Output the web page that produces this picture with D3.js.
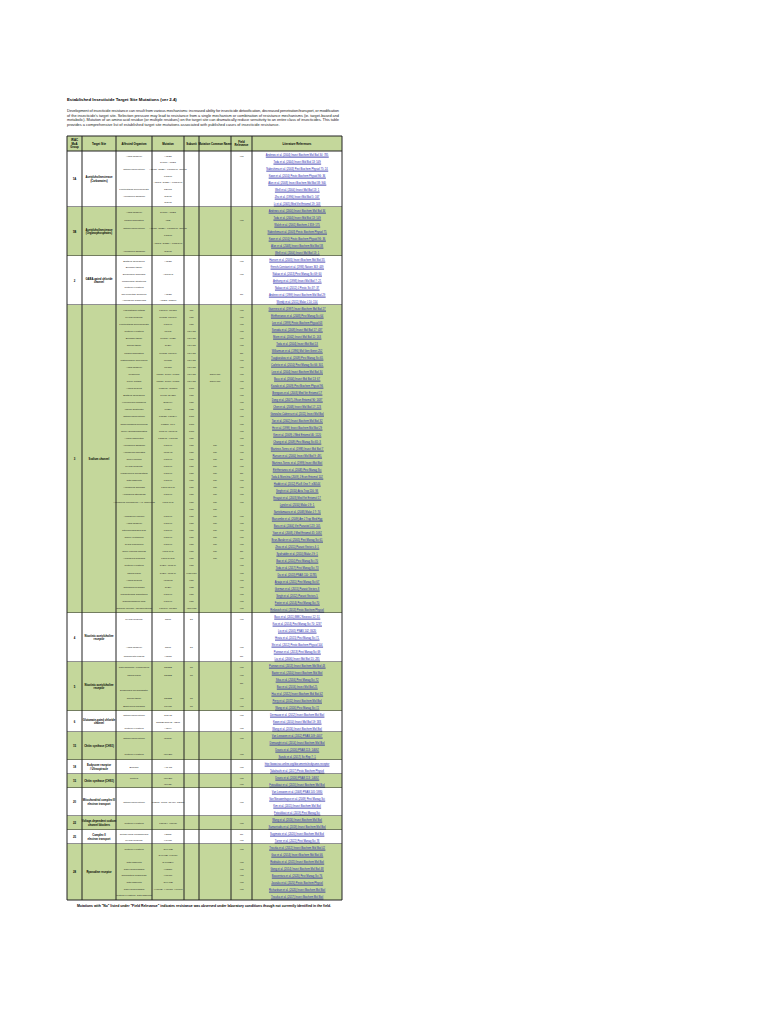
<!DOCTYPE html>
<html><head><meta charset="utf-8">
<script src="https://cdn.jsdelivr.net/npm/d3@7"></script>
<style>body{margin:0;background:#fff}svg{display:block}</style>
</head><body><svg id="c" width="768" height="1024"></svg>
<script>
const headers = ["IRAC MoA Group","Target Site","Affected Organism","Mutation","Subunit","Mutation Common Name","Field Relevance","Literature References"];
const moaGroups = ["1A","1B","2","3","4","5","6","15","18","15","20","22","25","28"];
const targets = ["Acetylcholinesterase (Carbamates)","Acetylcholinesterase (Organophosphates)","GABA-gated chloride channel","Sodium channel","Nicotinic acetylcholine receptor","Nicotinic acetylcholine receptor","Glutamate-gated chloride channel","Chitin synthase (CHS1)","Ecdysone receptor / Ultraspiracle","Chitin synthase (CHS1)","Mitochondrial complex III electron transport","Voltage-dependent sodium channel blockers","Complex II electron transport","Ryanodine receptor"];
// rows: [group index, organism, mutation, subunit, common name, field relevance]
const rows = [
[0,"Aphis gossypii","A302S","","","Yes"],[0,"","S431F, A302S","","",""],[0,"Tetranychus urticae","A201S, G328A, F331C/W, G119S","","",""],[0,"","F331W","","",""],[0,"","A201S, G328A, F331C/W","","",""],[0,"Leptinotarsa decemlineata","S291G","","",""],[0,"Anopheles gambiae","G119S","","",""],[0,"","G119S","","",""],
[1,"Aphis gossypii","S431F, A302S","","",""],[1,"Musca domestica","V82I","","","Yes"],[1,"Tetranychus urticae","A201S, G328A, F331C/W, G119S","","",""],[1,"","F331W","","",""],[1,"","A201S, G328A, F331C/W","","",""],[1,"Anopheles gambiae","G119S","","",""],
[2,"Blattella germanica","A302S","","","Yes"],[2,"Bemisia tabaci","","","",""],[2,"Drosophila simulans","A301G/S","","","Yes"],[2,"Laodelphax striatellus","","","",""],[2,"Plutella xylostella","","","",""],[2,"Rhyzopertha dominica","A302S","","","No"],[2,"Anopheles arabiensis","A302S, T350M","","",""],
[3,"Haematobia irritans","L1014F, M918T","kdr","","Yes"],[3,"Myzus persicae","M918T, L1014F","IIS6","","Yes"],[3,"Leptinotarsa decemlineata","L1014F","IIS6","","Yes"],[3,"Plutella xylostella","M918I","IIS4-S5","","Yes"],[3,"Bemisia tabaci","M918V, L925I","IIS4-S5","","Yes"],[3,"Thrips tabaci","T929I","IIS4-S5","","Yes"],[3,"Musca domestica","M918T, L1014F","IIS4-S5","","No"],[3,"Phthorimaea operculella","M918T","IIS4-S5","","Yes"],[3,"Aphis gossypii","M918L","IIS4-S5","","Yes"],[3,"Pediculus","M815I, T917I, L920F","IIS4-S5","super-kdr","Yes"],[3,"Pulex irritans","M815I, T917I, L920F","IIS4-S5","super-kdr","Yes"],[3,"Aedes aegypti","F1534C, I1011M","IIIS6","","Yes"],[3,"Blattella germanica","L993F, E435K","IIS6","","Yes"],[3,"Helicoverpa armigera","D1549V","IIS6","","Yes"],[3,"Varroa destructor","L925V","IIS5","","Yes"],[3,"Tetranychus urticae","F1538I, L1024V","IIIS6","","Yes"],[3,"Rhipicephalus microplus","F1550I, L64I","IIIS6","","Yes"],[3,"Culex quinquefasciatus","L1014F, L1014S","IIIS6","","Yes"],[3,"Aedes albopictus","F1534C, V1016G","IIS6","","Yes"],[3,"Anopheles gambiae","L1014F","IIS6","kdr","Yes"],[3,"Anopheles funestus","L1014S","IIS6","kdr","Yes"],[3,"Culex pipiens","L1014F","IIS6","kdr","No"],[3,"Myzus persicae","L1014F","IIS6","kdr","Yes"],[3,"Frankliniella occidentalis","L1014F","IIS6","kdr","No"],[3,"Tuta absoluta","L1014F","IIS6","kdr","Yes"],[3,"Anopheles sinensis","L1014C/F/S","IIS6","kdr","Yes"],[3,"Anopheles stephensi","L1014F","IIS6","kdr","Yes"],[3,"Anopheles culicifacies / An. subpictus","L1014F/S","IIS6","kdr","Yes"],[3,"","","IIS6","kdr",""],[3,"Anopheles coluzzii","L1014F","IIS6","kdr","Yes"],[3,"Aphis gossypii","L1014F","IIS6","kdr","Yes"],[3,"Ctenocephalides felis","L1014F","IIS6","kdr","Yes"],[3,"Cimex lectularius","L1014F","IIS6","kdr","Yes"],[3,"Cydia pomonella","L1014F","IIS6","kdr","Yes"],[3,"Culex pipiens pallens","L1014F/S","IIS6","kdr","No"],[3,"Anopheles minimus","L1014F/S/C","IIS6","kdr","Yes"],[3,"Plutella xylostella","T929I, L1014F","IIS6","","Yes"],[3,"Thrips palmi","T929I, L1014F","IIIS6/IIS6","","Yes"],[3,"Aedes aegypti","V1016G","IIS6","","Yes"],[3,"Sitophilus zeamais","T929I","IIS5","","Yes"],[3,"Phlebotomus argentipes","L1014F","IIS6","","Yes"],[3,"Rhopalosiphum padi","L1014F","IIS6","","Yes"],[3,"Sitobion avenae / Dendroctonus","L1014F, M918T","IIS6/IIS5","","Yes"],
[4,"Myzus persicae","R81T","β1","","Yes"],[4,"","","","",""],[4,"","","","",""],[4,"Aphis gossypii","R81T","β1","","Yes"],[4,"Nilaparvata lugens","Y151S","","","No"],
[5,"Tuta absoluta / Frankliniella","G275E","α6","","Yes"],[5,"Thrips palmi","G275E","α6","","Yes"],[5,"","","","","No"],[5,"Drosophila melanogaster","","","",""],[5,"Thrips tabaci","G275E","α6","","Yes"],[5,"Bactrocera dorsalis","P146S","α6","","Yes"],
[6,"Tetranychus urticae","G314D","","","Yes"],[6,"","G326E/G314D, I321T","","",""],[6,"Plutella xylostella","A309V","","","Yes"],
[7,"Tetranychus urticae","I1017F","","","Yes"],[7,"","","","",""],[7,"Plutella xylostella","I1042M","","","Yes"],
[8,"Bemisia","A/S ms","","","Yes"],
[9,"Plutella","I1042M","","","Yes"],[9,"","I1042F","","","Yes"],
[10,"Tetranychus urticae","G126S, I136T, S141F, P262T","","","Yes"],
[11,"Plutella xylostella","F1845Y, V1848I","","","Yes"],
[12,"Tetranychus cinnabarinus","H258L","","","No"],[12,"Myzus persicae","H146R","","","Yes"],
[13,"Plutella xylostella","G4946E","","","Yes"],[13,"","G4946E, I4790M","","",""],[13,"Tuta absoluta","G4903E/V","","","Yes"],[13,"Chilo suppressalis","I4758M","","","Yes"],[13,"Spodoptera frugiperda","I4790M","","","Yes"],[13,"Tuta absoluta","G4946E","","","Yes"],[13,"Chilo suppressalis","Y4667D, Y4701C, I4790M","","","Yes"],[13,"Plutella xylostella, Tuta absoluta","","","",""]
];
// references per group
const refs = [
["Andrews et al. (2004) Insect Biochem Mol Biol 34: 785","Toda et al. (2004) Insect Mol Biol 13: 549","Nabeshima et al. (2003) Pest Biochem Physiol 75: 24","Kwon et al. (2010) Pestic Biochem Physiol 96: 36","Alon et al. (2008) Insect Biochem Mol Biol 38: 940","Weill et al. (2004) Insect Mol Biol 13: 1","Zhu et al. (1996) Insect Mol Biol 5: 167","Li et al. (2005) Med Vet Entomol 19: 103"],
["Andrews et al. (2004) Insect Biochem Mol Biol 34","Toda et al. (2004) Insect Mol Biol 13: 549","Walsh et al. (2001) Biochem J 359: 175","Nabeshima et al. (2003) Pestic Biochem Physiol 75","Kwon et al. (2010) Pestic Biochem Physiol 96: 36","Alon et al. (2008) Insect Biochem Mol Biol 38","Weill et al. (2004) Insect Mol Biol 13: 1"],
["Hansen et al. (2005) Insect Biochem Mol Biol 35","ffrench-Constant et al. (1993) Nature 363: 449","Nakao et al. (2013) Pest Manag Sci 69: 60","Anthony et al. (1998) Insect Mol Biol 7: 21","Nakao et al. (2012) J Pestic Sci 37: 37","Andreev et al. (1999) Insect Biochem Mol Biol 29","Wondji et al. (2011) Malar J 10: 154"],
["Guerrero et al. (1997) Insect Biochem Mol Biol 27","Eleftherianos et al. (2008) Pest Manag Sci 64","Lee et al. (1999) Pestic Biochem Physiol 63","Sonoda et al. (2008) Insect Mol Biol 17: 437","Morin et al. (2002) Insect Mol Biol 11: 163","Toda et al. (2004) Insect Mol Biol 13","Williamson et al. (1996) Mol Gen Genet 252","Tsagkarakou et al. (2009) Pest Manag Sci 65","Carletto et al. (2010) Pest Manag Sci 66: 301","Lee et al. (2004) Insect Biochem Mol Biol 34","Bass et al. (2004) Insect Mol Biol 13: 67","Kozaki et al. (2009) Pest Biochem Physiol 96","Brengues et al. (2003) Med Vet Entomol 17","Dong et al. (2007) J Econ Entomol 90: 1637","Chen et al. (2008) Insect Mol Biol 17: 223","Gonzalez-Cabrera et al. (2011) Insect Mol Biol","Tan et al. (2002) Insect Biochem Mol Biol 32","He et al. (1999) Insect Biochem Mol Biol 29","Kim et al. (2009) J Med Entomol 46: 1120","Chang et al. (2009) Pest Manag Sci 65: 3","Martinez-Torres et al. (1998) Insect Mol Biol 7","Ranson et al. (2000) Insect Mol Biol 9: 491","Martinez-Torres et al. (1999) Insect Mol Biol","Eleftherianos et al. (2008) Pest Manag Sci","Toda & Morishita (2009) J Econ Entomol 102","Haddi et al. (2012) PLoS One 7: e36544","Singh et al. (2010) Acta Trop 116: 93","Enayati et al. (2003) Med Vet Entomol 17","Lynd et al. (2010) Malar J 9: 1","Santolamazza et al. (2008) Malar J 7: 74","Marcombe et al. (2009) Am J Trop Med Hyg","Bass et al. (2004) Vet Parasitol 123: 105","Yoon et al. (2008) J Med Entomol 45: 1092","Brun-Barale et al. (2005) Pest Manag Sci 61","Zhou et al. (2011) Parasit Vectors 4: 1","Syafruddin et al. (2010) Malar J 9: 1","Bao et al. (2014) Pest Manag Sci 70","Toda et al. (2017) Pest Manag Sci 73","Du et al. (2013) PNAS 110: 11785","Araujo et al. (2011) Pest Manag Sci 67","Gorman et al. (2015) Parasit Vectors 8","Singh et al. (2012) Parasit Vectors 5","Foster et al. (2014) Pest Manag Sci 70","Rinkevich et al. (2013) Pestic Biochem Physiol"],
["Bass et al. (2011) BMC Neurosci 12: 51","Koo et al. (2014) Pest Manag Sci 70: 1237","Liu et al. (2005) PNAS 102: 8420","Hirata et al. (2015) Pest Manag Sci 71","Shi et al. (2012) Pestic Biochem Physiol 104","Puinean et al. (2013) Pest Manag Sci 69","Liu et al. (2006) Insect Mol Biol 15: 285"],
["Puinean et al. (2013) Insect Biochem Mol Biol 43","Baxter et al. (2010) Insect Biochem Mol Biol","Silva et al. (2016) Pest Manag Sci 72","Bao et al. (2016) Insect Mol Biol 25","Hsu et al. (2012) Insect Biochem Mol Biol 42","Perry et al. (2012) Insect Biochem Mol Biol","Wang et al. (2016) Pest Manag Sci 72"],
["Dermauw et al. (2012) Insect Biochem Mol Biol","Kwon et al. (2010) Insect Mol Biol 19: 583","Wang et al. (2016) Insect Biochem Mol Biol"],
["Van Leeuwen et al. (2012) PNAS 109: 4407","Demaeght et al. (2014) Insect Biochem Mol Biol","Douris et al. (2016) PNAS 113: 14692","Suzuki et al. (2017) Sci Rep 7: 1"],
["http://www.irac-online.org/documents/ecdysone-receptor","Takahashi et al. (2017) Pestic Biochem Physiol"],
["Douris et al. (2016) PNAS 113: 14692","Fotoukkiaii et al. (2020) Insect Biochem Mol Biol"],
["Van Leeuwen et al. (2008) PNAS 105: 5980","Van Nieuwenhuyse et al. (2009) Pest Manag Sci","Kim et al. (2015) Insect Biochem Mol Biol","Fotoukkiaii et al. (2019) Pest Manag Sci"],
["Wang et al. (2016) Insect Biochem Mol Biol","Samantsidis et al. (2019) Insect Biochem Mol Biol"],
["Sugimoto et al. (2020) Insect Biochem Mol Biol","Turner et al. (2022) Pest Manag Sci 78"],
["Troczka et al. (2012) Insect Biochem Mol Biol 42","Guo et al. (2014) Insect Biochem Mol Biol 46","Roditakis et al. (2015) Insect Biochem Mol Biol","Gong et al. (2014) Insect Biochem Mol Biol 48","Boaventura et al. (2020) Pest Manag Sci 76","Jouraku et al. (2020) Pestic Biochem Physiol","Richardson et al. (2020) Insect Biochem Mol Biol","Troczka et al. (2017) Insect Biochem Mol Biol"]
];
const title = "Established Insecticide Target Site Mutations (ver 2.4)";
const intro = ["Development of insecticide resistance can result from various mechanisms: increased ability for insecticide detoxification, decreased penetration/transport, or modification",
"of the insecticide's target site. Selection pressure may lead to resistance from a single mechanism or combination of resistance mechanisms (ie. target-based and",
"metabolic). Mutation of an amino acid residue (or multiple residues) on the target site can dramatically reduce sensitivity to an entire class of insecticides. This table",
"provides a comprehensive list of established target site mutations associated with published cases of insecticide resistance."];
const footnote = "Mutations with \"No\" listed under \"Field Relevance\" indicates resistance was observed under laboratory conditions though not currently identified in the field.";

const svg = d3.select("#c");
const F = "Liberation Sans, Arial, sans-serif";
const colEdges = [67,82,116,152,184,199,231,252,342];
const green = "#c4d79b";
const tTop = 136, headBottom = 151, tBottom = 900;

const cum = [0]; refs.forEach(r => cum.push(cum[cum.length-1] + r.length));
const y = d3.scaleLinear().domain([0, cum[cum.length-1]]).range([headBottom, tBottom]);

svg.append("text").attr("x",67).attr("y",101).attr("font-family",F).attr("font-size",4.3).attr("font-weight","bold").text(title);
intro.forEach((t,i)=>svg.append("text").attr("x",67).attr("y",112+i*4.6).attr("font-family",F).attr("font-size",3.9).attr("fill","#222").attr("textLength",i<3?272:null).text(t));

svg.append("rect").attr("x",colEdges[0]).attr("y",tTop).attr("width",colEdges[8]-colEdges[0]).attr("height",headBottom-tTop).attr("fill",green);
headers.forEach((h,i)=>{
  const cx=(colEdges[i]+colEdges[i+1])/2, w=colEdges[i+1]-colEdges[i];
  const words = h.split(" "); let lines=[h];
  if (w<20) lines = words; else if (h.length*1.6>w) { const m=Math.ceil(words.length/2); lines=[words.slice(0,m).join(" "),words.slice(m).join(" ")]; }
  lines.forEach((l,j)=>svg.append("text").attr("x",cx).attr("y",(tTop+headBottom)/2+(j-(lines.length-1)/2)*3.2+1).attr("text-anchor","middle").attr("font-family",F).attr("font-size",2.8).attr("font-weight","bold").text(l));
});

moaGroups.forEach((g,gi)=>{
  const y0=y(cum[gi]), y1=y(cum[gi+1]);
  const fill = gi%2===1 ? green : "#fff";
  svg.append("rect").attr("x",colEdges[0]).attr("y",y0).attr("width",colEdges[8]-colEdges[0]).attr("height",y1-y0).attr("fill",fill);
  const mid=(y0+y1)/2;
  svg.append("text").attr("x",(colEdges[0]+colEdges[1])/2).attr("y",mid+1).attr("text-anchor","middle").attr("font-family",F).attr("font-size",2.8).attr("font-weight","bold").text(g);
  const tw = targets[gi]; const ws=tw.split(" ");
  let tl = tw.length>22 ? [ws.slice(0,Math.ceil(ws.length/2)).join(" "), ws.slice(Math.ceil(ws.length/2)).join(" ")] : [tw];
  tl.forEach((l,j)=>svg.append("text").attr("x",(colEdges[1]+colEdges[2])/2).attr("y",mid+1+(j-(tl.length-1)/2)*3.2).attr("text-anchor","middle").attr("font-family",F).attr("font-size",2.7).attr("font-weight","bold").text(l));
  const gr = rows.filter(r=>r[0]===gi);
  const band = d3.scaleBand().domain(d3.range(gr.length)).range([y0,y1]).paddingOuter(0.2);
  gr.forEach((r,k)=>{
    const yy = band(k)+band.bandwidth()/2+1;
    [[2,r[1]],[3,r[2]],[4,r[3]],[5,r[4]],[6,r[5]]].forEach(([c,t])=>{
      if(!t) return;
      svg.append("text").attr("x",(colEdges[c]+colEdges[c+1])/2).attr("y",yy).attr("text-anchor","middle").attr("font-family",F).attr("font-size",2.5).attr("fill","#222").text(t);
    });
  });
  const rb = d3.scaleBand().domain(d3.range(refs[gi].length)).range([y0,y1]);
  refs[gi].forEach((t,k)=>{
    const yy = rb(k)+rb.bandwidth()/2+1;
    const tx = svg.append("text").attr("x",(colEdges[7]+colEdges[8])/2).attr("y",yy).attr("text-anchor","middle").attr("font-family",F).attr("font-size",2.6).attr("fill","#1a1ab0").text(t);
    const bb = tx.node().getBBox();
    svg.append("line").attr("x1",bb.x).attr("x2",bb.x+bb.width).attr("y1",yy+1.6).attr("y2",yy+1.6).attr("stroke","#1a1aa0").attr("stroke-width",0.8);
  });
  svg.append("line").attr("x1",colEdges[0]).attr("x2",colEdges[8]).attr("y1",y1).attr("y2",y1).attr("stroke","#222").attr("stroke-width",1);
});
colEdges.forEach(x=>svg.append("line").attr("x1",x).attr("x2",x).attr("y1",tTop).attr("y2",tBottom).attr("stroke","#222").attr("stroke-width",1));
[tTop,headBottom].forEach(yy=>svg.append("line").attr("x1",colEdges[0]).attr("x2",colEdges[8]).attr("y1",yy).attr("y2",yy).attr("stroke","#222").attr("stroke-width",1));

svg.append("text").attr("x",204).attr("y",907).attr("text-anchor","middle").attr("font-family",F).attr("font-size",3.4).attr("font-weight","bold").text(footnote);
</script></body></html>
